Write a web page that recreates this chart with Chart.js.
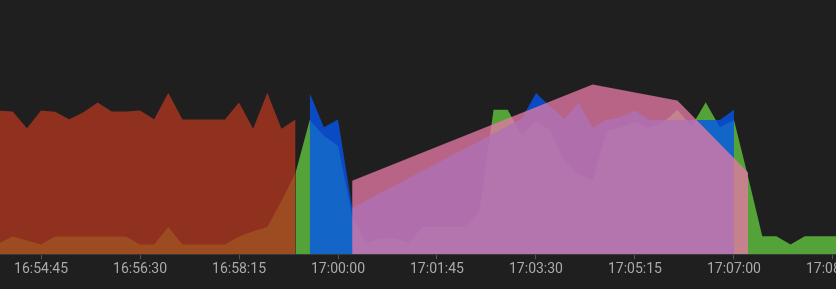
<!DOCTYPE html>
<html>
<head>
<meta charset="utf-8">
<script src="https://cdn.jsdelivr.net/npm/chart.js@4.4.1/dist/chart.umd.min.js"></script>
<style>
  html, body { margin: 0; padding: 0; background: #1f1f1f; }
  canvas { display: block; }
</style>
</head>
<body>
<canvas id="panel" width="836" height="289"></canvas>
<script>
var _ = null;

// Data, one point every 15 s

var times = [
    '16:54:00', '16:54:15', '16:54:30', '16:54:45',
    '16:55:00', '16:55:15', '16:55:30', '16:55:45',
    '16:56:00', '16:56:15', '16:56:30', '16:56:45',
    '16:57:00', '16:57:15', '16:57:30', '16:57:45',
    '16:58:00', '16:58:15', '16:58:30', '16:58:45',
    '16:59:00', '16:59:15', '16:59:30', '16:59:45',
    '17:00:00', '17:00:15', '17:00:30', '17:00:45',
    '17:01:00', '17:01:15', '17:01:30', '17:01:45',
    '17:02:00', '17:02:15', '17:02:30', '17:02:45',
    '17:03:00', '17:03:15', '17:03:30', '17:03:45',
    '17:04:00', '17:04:15', '17:04:30', '17:04:45',
    '17:05:00', '17:05:15', '17:05:30', '17:05:45',
    '17:06:00', '17:06:15', '17:06:30', '17:06:45',
    '17:07:00', '17:07:15', '17:07:30', '17:07:45',
    '17:08:00', '17:08:15', '17:08:30', '17:08:45',
    '17:09:00'
];

var redSeries = [
    56.5, 56.1, 49.5, 56.5,
    56.0, 53.1, 55.8, 59.7,
    56.1, 56.1, 56.5, 53.1,
    63.5, 53.0, 53.0, 53.0,
    53.0, 59.7, 49.4, 63.5,
    49.4, 53.0, _, _,
    _, _, _, _,   _, _, _, _,   _, _, _, _,
    _, _, _, _,   _, _, _, _,   _, _, _, _,
    _, _, _, _,   _, _, _, _,   _, _, _, _,
    _
];

var orangeSeries = [
    4.2, 7.0, 5.4, 3.8,
    7.0, 7.0, 7.0, 7.0,
    7.0, 7.0, 3.8, 3.8,
    10.7, 3.8, 3.8, 3.8,
    3.8, 7.0, 9.0, 10.7,
    20.9, 32.1, _, _,
    _, _, _, _,   _, _, _, _,   _, _, _, _,
    _, _, _, _,   _, _, _, _,   _, _, _, _,
    _, _, _, _,   _, _, _, _,   _, _, _, _,
    _
];

var greenSeries = [
    _, _, _, _,   _, _, _, _,   _, _, _, _,
    _, _, _, _,   _, _, _, _,
    _, 32.0, 52.8, 46.6,
    42.7, 15.0, 4.5, 6.2,
    6.2, 4.5, 10.7, 10.7,
    10.7, 10.7, 17.0, 56.8,
    56.8, 46.6, 52.6, 48.6,
    36.8, 31.5, 28.9, 48.6,
    49.9, 51.8, 49.8, 51.8,
    56.8, 50.2, 59.8, 49.9,
    52.8, 30.4, 7.1, 7.1,
    3.8, 7.1, 7.1, 7.1,
    7.1
];

var blueSeries = [
    _, _, _, _,   _, _, _, _,   _, _, _, _,
    _, _, _, _,   _, _, _, _,
    _, _, 63.4, 49.9,
    53.0, 18.2, _, _,
    _, _, _, _,
    _, _, _, _,
    _, 53.4, 63.4, 58.1,
    53.2, 59.5, 49.8, 52.8,
    54.0, 56.5, 52.8, 52.8,
    52.8, 52.8, 52.8, 52.8,
    56.8, _, _, _,
    _, _, _, _,
    _
];

var pinkSeries = [
    _, _, _, _,   _, _, _, _,   _, _, _, _,
    _, _, _, _,   _, _, _, _,   _, _, _, _,
    _, 28.9, _, _,
    _, _, _, _,
    _, _, _, _,
    _, _, _, _,
    _, _, 66.8, _,
    _, _, _, _,
    60.5, _, _, _,
    _, 32.1, _, _,
    _, _, _, _,
    _
];

var tickLabels = [
    '16:54:45', '16:56:30', '16:58:15', '17:00:00', '17:01:45',
    '17:03:30', '17:05:15', '17:07:00', '17:08:45'
];

var rangeStart = 60841.5; // seconds of day at the left edge
var rangeEnd = 61728.2;


// Methods

function toSec(t) {
    var p = t.split(':');
    return (+p[0]) * 3600 + (+p[1]) * 60 + (+p[2]);
}

function pad(n) {
    return (n < 10 ? '0' : '') + n;
}

function toLabel(s) {
    s = Math.round(s);
    return pad(Math.floor(s / 3600)) + ':' + pad(Math.floor(s / 60) % 60) + ':' + pad(s % 60);
}

function points(values) {
    return values.map(function (v, i) {
        return { x: toSec(times[i]), y: v };
    });
}

function area(values, color, gaps) {
    return {
        data: points(values),
        backgroundColor: color,
        borderColor: 'transparent',
        borderWidth: 0,
        pointRadius: 0,
        fill: 'origin',
        spanGaps: gaps,
        tension: 0
    };
}

var panel = new Chart(document.getElementById('panel'), {
    type: 'line',
    data: {
        // first dataset is drawn on top
        datasets: [
            area(pinkSeries, 'rgba(229, 121, 166, 0.77)', true),
            area(blueSeries, 'rgba(5, 86, 236, 0.8)', true),
            area(greenSeries, 'rgba(97, 196, 62, 0.8)', false),
            area(orangeSeries, 'rgba(170, 100, 38, 0.55)', false),
            area(redSeries, 'rgba(171, 54, 30, 0.8)', false)
        ]
    },
    options: {
        responsive: false,
        devicePixelRatio: 1,
        animation: false,
        layout: { padding: { left: 0, right: 0, top: 0, bottom: 9 } },
        plugins: {
            legend: { display: false },
            tooltip: { enabled: false }
        },
        scales: {
            x: {
                type: 'linear',
                min: rangeStart,
                max: rangeEnd,
                afterBuildTicks: function (scale) {
                    scale.ticks = tickLabels.map(function (t) {
                        return { value: toSec(t) };
                    });
                },
                afterFit: function (scale) {
                    scale.paddingLeft = 0;
                    scale.paddingRight = 0;
                },
                grid: {
                    drawOnChartArea: false,
                    drawTicks: true,
                    tickLength: 5,
                    color: '#555555'
                },
                border: { display: true, color: '#3a3a3a' },
                ticks: {
                    color: '#aaaaaa',
                    font: { family: 'Roboto, sans-serif', size: 14 },
                    padding: 2,
                    maxRotation: 0,
                    autoSkip: false,
                    callback: function (value) {
                        return toLabel(value);
                    }
                }
            },
            y: {
                display: false,
                min: 0,
                max: 100
            }
        }
    }
});
</script>
</body>
</html>
